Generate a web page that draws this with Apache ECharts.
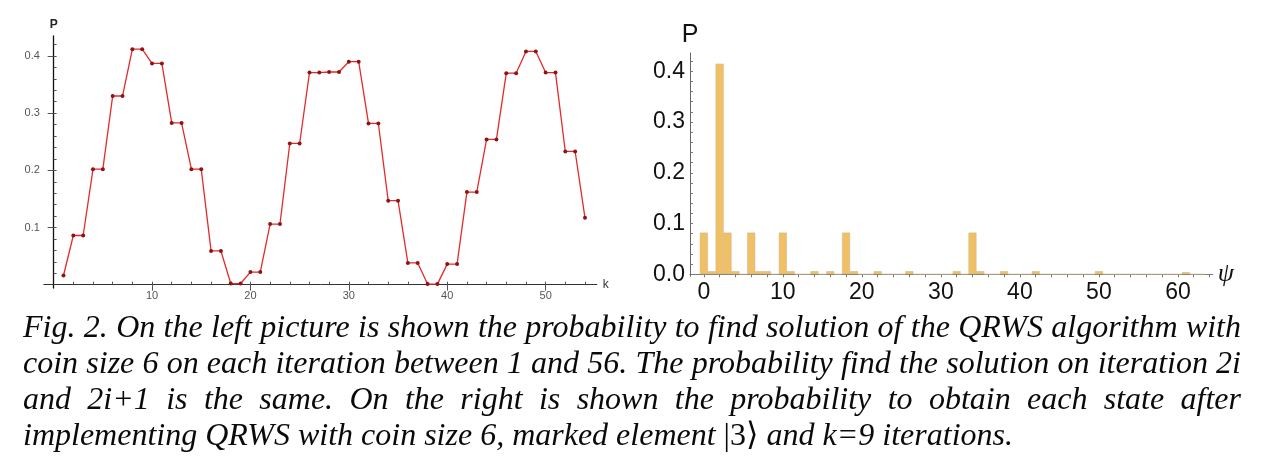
<!DOCTYPE html>
<html>
<head>
<meta charset="utf-8">
<script src="https://cdn.jsdelivr.net/npm/echarts@6/dist/echarts.min.js"></script>
<style>
  html, body { margin: 0; padding: 0; background: #ffffff; }
  #wrap { position: relative; width: 1262px; height: 468px; overflow: hidden; background: #fff; }
  #chart { position: absolute; left: 0; top: 0; width: 1262px; height: 468px; }
  #caption { position: absolute; left: 23px; top: 308px; width: 1218px;
    font-family: "Liberation Serif", "DejaVu Serif", serif; font-style: italic;
    font-size: 32px; line-height: 36px; color: #0a0a0a; }
  #caption .j { text-align: justify; text-align-last: justify; }
  #caption .l { text-align: left; }
  #caption .up { font-style: normal; }
</style>
</head>
<body>
<div id="wrap">
  <div id="chart"></div>
  <div id="caption">
    <div class="j">Fig. 2. On the left picture is shown the probability to find solution of the QRWS algorithm with</div>
    <div class="j">coin size 6 on each iteration between 1 and 56. The probability find the solution on iteration 2i</div>
    <div class="j">and 2i+1 is the same. On the right is shown the probability to obtain each state after</div>
    <div class="l">implementing QRWS with coin size 6, marked element <span class="up">|3⟩</span> and k=9 iterations.</div>
  </div>
</div>
<script>
// ---- Left chart data: probability vs iteration k ----
const iterK = [1,2,3,4,5,6,7,8,9,10,11,12,13,14,15,16,17,18,19,20,21,22,23,24,25,26,27,
               28,29,30,31,32,33,34,35,36,37,38,39,40,41,42,43,44,45,46,47,48,49,50,51,52,53,54];
const probK = [0.016,0.086,0.086,0.202,0.202,0.330,0.330,0.412,0.412,0.387,0.387,0.283,0.283,
               0.202,0.202,0.059,0.059,0.002,0.002,0.022,0.022,0.106,0.106,0.247,0.247,0.371,0.371,
               0.372,0.372,0.390,0.390,0.282,0.282,0.147,0.147,0.038,0.038,0.001,0.001,0.036,0.036,
               0.162,0.162,0.254,0.254,0.370,0.370,0.408,0.408,0.371,0.371,0.233,0.233,0.117];
const leftXLabels = [10,20,30,40,50];
const leftYLabels = [0.1,0.2,0.3,0.4];

// ---- Right chart data: probability of each state psi ----
const psiStates = [0,1,2,3,4,5,6,7,8,9,10,11,12,13,14,15,16,17,18,19,20,21,22,23,24,25,26,27,28,29,30,31,
                   32,33,34,35,36,37,38,39,40,41,42,43,44,45,46,47,48,49,50,51,52,53,54,55,56,57,58,59,60,61,62,63];
const probPsi = [0.082,0.006,0.415,0.082,0.006,0,0.082,0.006,0.006,0,0.082,0.006,0,0,0.006,0,
                 0.006,0,0.082,0.006,0,0,0.006,0,0,0,0.006,0,0,0,0,0,
                 0.006,0,0.082,0.006,0,0,0.006,0,0,0,0.006,0,0,0,0,0,
                 0,0,0.006,0,0,0,0,0,0,0,0,0,0,0.004,0,0];
const rightXLabels = [0,10,20,30,40,50,60];
const rightYLabels = [0.0,0.1,0.2,0.3,0.4];

function range(a, b, s) { const r = []; for (let v = a; v <= b + 1e-9; v += s) r.push(+v.toFixed(4)); return r; }

const chart = echarts.init(document.getElementById('chart'), null, { renderer: 'canvas' });

const leftLabelStyle = { fontFamily: 'Liberation Sans', fontSize: 11, color: '#555' };
const rightLabelStyle = { fontFamily: 'Liberation Sans', fontSize: 23, color: '#111' };

chart.setOption({
  animation: false,
  backgroundColor: '#ffffff',
  grid: [
    { left: 43.8, width: 553, top: 36, bottom: 468 - 288.1, containLabel: false },
    { left: 690, width: 522.7, top: 53, bottom: 468 - 276.3, containLabel: false }
  ],
  xAxis: [
    { gridIndex: 0, type: 'value', min: -1, max: 55.2,
      name: 'k', nameLocation: 'end', nameGap: 6,
      nameTextStyle: { fontFamily: 'Liberation Sans', fontSize: 12, color: '#333' },
      axisLine: { onZero: true, lineStyle: { color: '#333', width: 1 } },
      axisTick: { show: true, inside: true, length: 3, customValues: range(2, 54, 2), lineStyle: { color: '#555' } },
      axisLabel: { customValues: leftXLabels, margin: 2, ...leftLabelStyle },
      splitLine: { show: false } },
    { gridIndex: 0, type: 'value', min: -1, max: 55.2, show: true,
      axisLine: { show: false, onZero: true },
      axisTick: { show: true, inside: true, length: 6, customValues: leftXLabels, lineStyle: { color: '#555' } },
      axisLabel: { show: false }, splitLine: { show: false } },
    { gridIndex: 1, type: 'value', min: -1.75, max: 64.4,
      name: 'ψ', nameLocation: 'end', nameGap: 5,
      nameTextStyle: { fontFamily: 'Liberation Serif', fontStyle: 'italic', fontSize: 26, color: '#111', verticalAlign: 'middle' },
      axisLine: { onZero: true, lineStyle: { color: '#777', width: 1 } },
      axisTick: { show: true, inside: false, length: 3, customValues: range(0, 64, 2), lineStyle: { color: '#777' } },
      axisLabel: { customValues: rightXLabels, margin: 5, ...rightLabelStyle },
      splitLine: { show: false } }
  ],
  yAxis: [
    { gridIndex: 0, type: 'value', min: -0.006, max: 0.435,
      name: 'P', nameLocation: 'end', nameGap: 5,
      nameTextStyle: { fontFamily: 'Liberation Sans', fontWeight: 'bold', fontSize: 12, color: '#222', align: 'center' },
      axisLine: { onZero: true, onZeroAxisIndex: 0, lineStyle: { color: '#111', width: 1.3 } },
      axisTick: { show: true, inside: true, length: 3, customValues: range(0.02, 0.42, 0.02), lineStyle: { color: '#555' } },
      axisLabel: { customValues: leftYLabels, margin: 4, formatter: v => v.toFixed(1), ...leftLabelStyle },
      splitLine: { show: false } },
    { gridIndex: 0, type: 'value', min: -0.006, max: 0.435,
      axisLine: { show: false, onZero: true, onZeroAxisIndex: 0 },
      axisTick: { show: true, inside: true, length: 6, customValues: leftYLabels, lineStyle: { color: '#555' } },
      axisLabel: { show: false }, splitLine: { show: false } },
    { gridIndex: 1, type: 'value', min: -0.004, max: 0.436,
      name: 'P', nameLocation: 'end', nameGap: 5,
      nameTextStyle: { fontFamily: 'Liberation Sans', fontSize: 25, color: '#111', align: 'center' },
      axisLine: { onZero: false, lineStyle: { color: '#666', width: 1 } },
      axisTick: { show: true, inside: true, length: 3, customValues: range(0.02, 0.42, 0.02), lineStyle: { color: '#777' } },
      axisLabel: { customValues: rightYLabels, margin: 5, formatter: v => v.toFixed(1), ...rightLabelStyle },
      splitLine: { show: false } }
  ],
  series: [
    { type: 'line', xAxisIndex: 0, yAxisIndex: 0,
      data: iterK.map((k, i) => [k, probK[i]]),
      lineStyle: { color: '#e52a2a', width: 1.3 },
      symbol: 'circle', symbolSize: 4, showSymbol: true,
      itemStyle: { color: '#8e1414' }, z: 3 },
    { type: 'bar', xAxisIndex: 2, yAxisIndex: 2,
      data: psiStates.map((s, i) => [s, probPsi[i]]),
      barWidth: 7.9,
      itemStyle: { color: '#f1c064', borderColor: '#c9b088', borderWidth: 0.5 }, z: 2 }
  ]
});
</script>
</body>
</html>
